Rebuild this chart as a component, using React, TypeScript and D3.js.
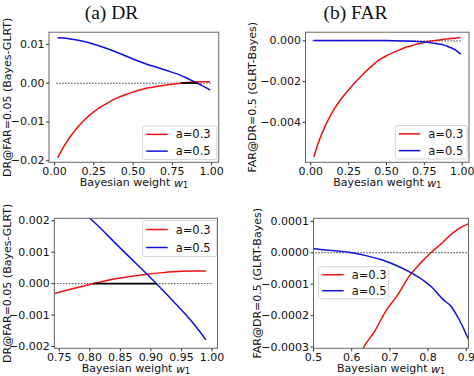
import React from 'react';
import * as d3 from 'd3';

// ---- data ----
const SERIES_NAMES = ['a=0.3', 'a=0.5'];

const W_DR_A03 = [0.02, 0.04, 0.06, 0.08, 0.10, 0.15, 0.20, 0.25, 0.30, 0.35, 0.40, 0.45, 0.50, 0.55, 0.60, 0.65, 0.70, 0.74, 0.77, 0.80, 0.83, 0.86, 0.89, 0.92, 0.95, 0.97, 0.99];
const DR_A03 = [-0.0192, -0.0177, -0.0163, -0.0150, -0.0138, -0.0112, -0.0091, -0.0074, -0.0060, -0.0048, -0.0038, -0.0030, -0.0023, -0.0017, -0.0012, -0.00085, -0.00055, -0.00033, -0.00017, -0.00003, 0.00011, 0.00021, 0.00029, 0.00035, 0.00039, 0.0004, 0.0004];

const W_DR_A05 = [0.02, 0.05, 0.10, 0.15, 0.20, 0.25, 0.30, 0.35, 0.40, 0.45, 0.50, 0.55, 0.60, 0.65, 0.70, 0.75, 0.80, 0.85, 0.88, 0.91, 0.94, 0.97, 0.99];
const DR_A05 = [0.01168, 0.01162, 0.0114, 0.01105, 0.0106, 0.01005, 0.0094, 0.00868, 0.0079, 0.00708, 0.00625, 0.00545, 0.0047, 0.0041, 0.00345, 0.00278, 0.00208, 0.00113, 0.00056, -0.00002, -0.00063, -0.00128, -0.00179];

const W_FAR_A03 = [0.02, 0.05, 0.10, 0.15, 0.20, 0.25, 0.30, 0.35, 0.40, 0.45, 0.50, 0.55, 0.60, 0.63, 0.66, 0.69, 0.72, 0.75, 0.78, 0.81, 0.83, 0.86, 0.88, 0.905, 0.95, 0.99];
const FAR_A03 = [-0.0057, -0.0050, -0.0041, -0.0034, -0.00285, -0.0024, -0.00198, -0.0016, -0.00125, -0.00095, -0.00073, -0.00055, -0.0004, -0.000304, -0.00025, -0.000184, -0.000135, -0.000075, -0.000033, 0.000003, 0.000024, 0.000058, 0.000077, 0.000092, 0.000125, 0.00016];

const W_FAR_A05 = [0.02, 0.1, 0.2, 0.3, 0.4, 0.5, 0.55, 0.6, 0.64, 0.68, 0.72, 0.75, 0.79, 0.81, 0.84, 0.86, 0.88, 0.9, 0.93, 0.96, 0.99];
const FAR_A05 = [0.00002, 0.00002, 0.00002, 0.00002, 0.000018, 0.000013, 0.000007, 0.0, -0.00001, -0.000023, -0.000042, -0.00006, -0.00009, -0.00011, -0.00015, -0.00017, -0.00021, -0.00026, -0.00035, -0.00047, -0.00065];

const ZERO_W = [0.01, 1.0];
const BLACK_W = [0.805, 0.91];

const X_TICKS_FULL = [0, 0.25, 0.5, 0.75, 1.0];
const X_TICKS_DR_ZOOM = [0.75, 0.8, 0.85, 0.9, 0.95, 1.0];
const X_TICKS_FAR_ZOOM = [0.5, 0.6, 0.7, 0.8, 0.9];
const Y_TICKS_DR = [0.01, 0, -0.01, -0.02];
const Y_TICKS_FAR = [0, -0.002, -0.004];
const Y_TICKS_DR_ZOOM = [0.002, 0.001, 0, -0.001, -0.002];
const Y_TICKS_FAR_ZOOM = [0.0001, 0, -0.0001, -0.0002, -0.0003];

const TITLES = ['(a) DR', '(b) FAR'];
const YLABEL_DR = 'DR@FAR=0.05 (Bayes-GLRT)';
const YLABEL_FAR = 'FAR@DR=0.5 (GLRT-Bayes)';

const COLORS = ['#f01010', '#1010e0'];
const FONT = 'DejaVu Sans';

type Panel = {
  id: string;
  xd: [number, number]; xr: [number, number];
  yd: [number, number]; yr: [number, number];
  xticks: number[]; xfmt: string;
  yticks: number[]; yfmt: string;
  ylabel: string; ylabelX: number;
  series: { w: number[]; v: number[] }[];
  legend: { x: number; y: number; w: number; h: number };
  black: boolean;
};

const PANELS: Panel[] = [
  {
    id: 'p1', xd: [-0.035, 1.045], xr: [49, 218.7], yd: [-0.02039, 0.01314], yr: [162.3, 32.2],
    xticks: X_TICKS_FULL, xfmt: '.2f', yticks: Y_TICKS_DR, yfmt: '.2f', ylabel: YLABEL_DR, ylabelX: 7.5,
    series: [{ w: W_DR_A03, v: DR_A03 }, { w: W_DR_A05, v: DR_A05 }],
    legend: { x: 142.7, y: 126, w: 74, h: 33.5 }, black: true,
  },
  {
    id: 'p2', xd: [-0.035, 1.045], xr: [305.5, 469], yd: [-0.00596, 0.000426], yr: [162.3, 32.2],
    xticks: X_TICKS_FULL, xfmt: '.2f', yticks: Y_TICKS_FAR, yfmt: '.3f', ylabel: YLABEL_FAR, ylabelX: 252,
    series: [{ w: W_FAR_A03, v: FAR_A03 }, { w: W_FAR_A05, v: FAR_A05 }],
    legend: { x: 395.3, y: 125.5, w: 72, h: 33.5 }, black: false,
  },
  {
    id: 'p3', xd: [0.742, 1.009], xr: [54.3, 217.5], yd: [-0.00206, 0.00208], yr: [348.3, 218.3],
    xticks: X_TICKS_DR_ZOOM, xfmt: '.2f', yticks: Y_TICKS_DR_ZOOM, yfmt: '.3f', ylabel: YLABEL_DR, ylabelX: 7.5,
    series: [{ w: W_DR_A03, v: DR_A03 }, { w: W_DR_A05, v: DR_A05 }],
    legend: { x: 142.7, y: 220.5, w: 74, h: 36 }, black: true,
  },
  {
    id: 'p4', xd: [0.5, 0.9057], xr: [313.5, 468.5], yd: [-0.000304, 0.0001096], yr: [348.3, 218.3],
    xticks: X_TICKS_FAR_ZOOM, xfmt: '.1f', yticks: Y_TICKS_FAR_ZOOM, yfmt: '.4f', ylabel: YLABEL_FAR, ylabelX: 257,
    series: [{ w: W_FAR_A03, v: FAR_A03 }, { w: W_FAR_A05, v: FAR_A05 }],
    legend: { x: 318.7, y: 266.7, w: 70, h: 32 }, black: false,
  },
];

function PanelView({ p }: { p: Panel }) {
  const x = d3.scaleLinear().domain(p.xd).range(p.xr);
  const y = d3.scaleLinear().domain(p.yd).range(p.yr);
  const line = d3.line<[number, number]>().x(d => x(d[0])).y(d => y(d[1]));
  const smooth = d3.line<[number, number]>().x(d => x(d[0])).y(d => y(d[1])).curve(d3.curveMonotoneX);
  const fx = d3.format(p.xfmt);
  const fy = d3.format(p.yfmt);
  const [x0, x1] = p.xr;
  const [yb, yt] = p.yr;
  const midX = (x0 + x1) / 2;
  const midY = (yb + yt) / 2;
  const lg = p.legend;
  return (
    <g>
      <defs>
        <clipPath id={`clip-${p.id}`}>
          <rect x={x0} y={yt} width={x1 - x0} height={yb - yt} />
        </clipPath>
      </defs>
      <rect x={x0} y={yt} width={x1 - x0} height={yb - yt} fill="#fff" />
      <g clipPath={`url(#clip-${p.id})`}>
        <path d={line(ZERO_W.map(w => [w, 0]) as [number, number][]) || ''} stroke="#333" strokeWidth={0.9} strokeDasharray="1.6,1.4" fill="none" />
        {p.series.map((s, i) => (
          <path key={i} d={smooth(s.w.map((w, j) => [w, s.v[j]]) as [number, number][]) || ''} stroke={COLORS[i]} strokeWidth={1.5} fill="none" />
        ))}
        {p.black && (
          <path d={line(BLACK_W.map(w => [w, 0]) as [number, number][]) || ''} stroke="#000" strokeWidth={1.8} fill="none" />
        )}
      </g>
      <rect x={x0} y={yt} width={x1 - x0} height={yb - yt} fill="none" stroke="#666" strokeWidth={1} />
      {p.xticks.map(t => (
        <g key={`x${t}`}>
          <line x1={x(t)} x2={x(t)} y1={yb} y2={yb + 3} stroke="#333" />
          <text x={x(t)} y={yb + 9} fontSize={11} fontFamily={FONT} textAnchor="middle" dominantBaseline="central" fill="#111">{fx(t)}</text>
        </g>
      ))}
      {p.yticks.map(t => (
        <g key={`y${t}`}>
          <line x1={x0 - 3} x2={x0} y1={y(t)} y2={y(t)} stroke="#333" />
          <text x={x0 - 4.5} y={y(t)} fontSize={11} fontFamily={FONT} textAnchor="end" dominantBaseline="central" fill="#111">{fy(t)}</text>
        </g>
      ))}
      <text x={midX} y={yb + 20.5} fontSize={11} fontFamily={FONT} textAnchor="middle" dominantBaseline="central" fill="#111">
        Bayesian weight <tspan fontStyle="italic">w</tspan><tspan fontSize={8} dy={2.5}>1</tspan>
      </text>
      <text transform={`translate(${p.ylabelX},${midY}) rotate(-90)`} fontSize={11} fontFamily={FONT} textAnchor="middle" dominantBaseline="central" fill="#111">{p.ylabel}</text>
      <rect x={lg.x} y={lg.y} width={lg.w} height={lg.h} rx={2} fill="#fff" fillOpacity={0.85} stroke="#ccc" strokeWidth={0.8} />
      {SERIES_NAMES.map((name, i) => {
        const cy = lg.y + lg.h * (0.25 + 0.5 * i);
        return (
          <g key={name}>
            <line x1={lg.x + 3.5} x2={lg.x + 25} y1={cy} y2={cy} stroke={COLORS[i]} strokeWidth={1.5} />
            <text x={lg.x + 33} y={cy} fontSize={11.5} fontFamily={FONT} dominantBaseline="central" fill="#111">{name}</text>
          </g>
        );
      })}
    </g>
  );
}

export default function App() {
  return (
    <svg width={474} height={376} style={{ position: 'absolute', left: 0, top: 0, background: '#fff' }}>
      <rect x={0} y={0} width={474} height={376} fill="#fff" />
      <text x={111.5} y={12} fontSize={19.5} fontFamily="Liberation Serif" textAnchor="middle" dominantBaseline="central" fill="#111">{TITLES[0]}</text>
      <text x={355.5} y={12} fontSize={19.5} fontFamily="Liberation Serif" textAnchor="middle" dominantBaseline="central" fill="#111">{TITLES[1]}</text>
      {PANELS.map(p => <PanelView key={p.id} p={p} />)}
    </svg>
  );
}
